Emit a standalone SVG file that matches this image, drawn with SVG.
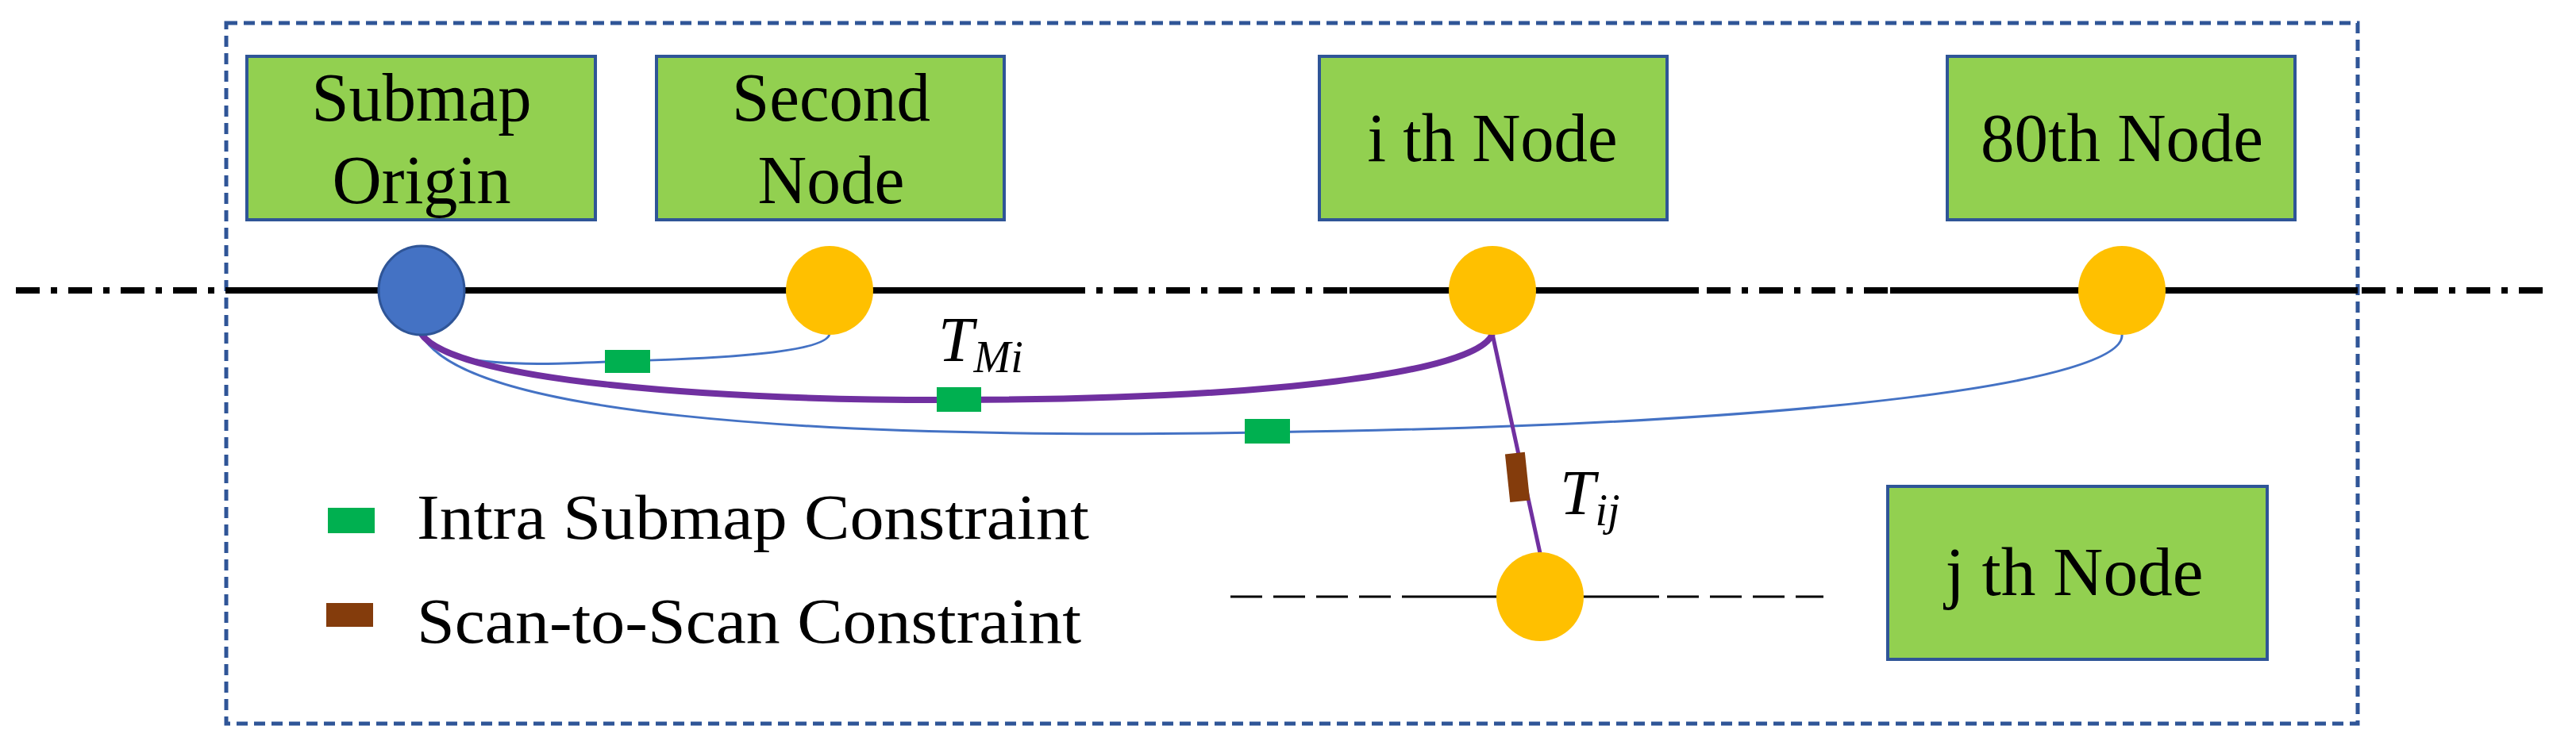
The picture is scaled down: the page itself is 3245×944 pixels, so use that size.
<svg xmlns="http://www.w3.org/2000/svg" width="3245" height="944" viewBox="0 0 3245 944">
<style>
.box{fill:#92D050;stroke:#2F5597;stroke-width:4}
.t{font-family:"Liberation Serif",serif;font-size:86px;fill:#000;text-anchor:middle}
.lg{font-family:"Liberation Serif",serif;font-size:80px;fill:#000}
.m{font-family:"Liberation Serif",serif;font-style:italic;fill:#000}
.yel{fill:#FFC000}
.sol{stroke:#000;stroke-width:8}
.dd{stroke:#000;stroke-width:8;stroke-dasharray:30 14 8 14}
</style>
<rect x="285" y="29" width="2685" height="883" fill="none" stroke="#2F5597" stroke-width="5" stroke-dasharray="14 8"/>
<g id="axis">
<line x1="20" y1="366" x2="285" y2="366" class="dd"/>
<line x1="285" y1="366" x2="1337" y2="366" class="sol"/>
<line x1="1337" y1="366" x2="1700" y2="366" class="dd"/>
<line x1="1700" y1="366" x2="2140" y2="366" class="sol"/>
<line x1="2150" y1="366" x2="2381" y2="366" class="dd"/>
<line x1="2381" y1="366" x2="2970" y2="366" class="sol"/>
<line x1="2975" y1="366" x2="3215" y2="366" class="dd"/>
<line x1="1550" y1="752" x2="1770" y2="752" stroke="#000" stroke-width="3" stroke-dasharray="40 14"/>
<line x1="1770" y1="752" x2="2090" y2="752" stroke="#000" stroke-width="3"/>
<line x1="2100" y1="752" x2="2297" y2="752" stroke="#000" stroke-width="3" stroke-dasharray="40 14"/>
</g>
<g id="connectors" fill="none">
<path d="M531,421 C560,470 700,458 790,455 C900,452 1040,445 1045,421" stroke="#4472C4" stroke-width="3"/>
<path d="M531,421 C580,520 1000,555 1590,545 C2300,535 2680,480 2673,421" stroke="#4472C4" stroke-width="3"/>
<path d="M531,421 C570,480 900,505 1207,504 C1600,503 1860,470 1880,421" stroke="#7030A0" stroke-width="8"/>
<line x1="1880" y1="421" x2="1940" y2="697" stroke="#7030A0" stroke-width="5"/>
<rect x="762" y="441" width="57" height="29" fill="#00B050"/>
<rect x="1180" y="488" width="56" height="31" fill="#00B050"/>
<rect x="1568" y="528" width="57" height="31" fill="#00B050"/>
<rect x="1899" y="571" width="25" height="61" fill="#843C0C" transform="rotate(-6 1911 601)"/>
</g>
<g id="n-origin"><rect class="box" x="311" y="71" width="439" height="206"/>
<text class="t" x="531" y="152" textLength="277" lengthAdjust="spacingAndGlyphs">Submap</text>
<text class="t" x="531" y="256" textLength="225" lengthAdjust="spacingAndGlyphs">Origin</text>
<ellipse cx="531" cy="366" rx="54" ry="56" fill="#4472C4" stroke="#2F5597" stroke-width="3"/></g>
<g id="n-second"><rect class="box" x="827" y="71" width="438" height="206"/>
<text class="t" x="1047" y="152" textLength="250" lengthAdjust="spacingAndGlyphs">Second</text>
<text class="t" x="1047" y="256" textLength="185" lengthAdjust="spacingAndGlyphs">Node</text>
<ellipse class="yel" cx="1045" cy="366" rx="55" ry="56"/></g>
<g id="n-i"><rect class="box" x="1662" y="71" width="438" height="206"/>
<text class="t" x="1880" y="203" textLength="315" lengthAdjust="spacingAndGlyphs">i th Node</text>
<ellipse class="yel" cx="1880" cy="366" rx="55" ry="56"/></g>
<g id="n-80"><rect class="box" x="2453" y="71" width="438" height="206"/>
<text class="t" x="2673" y="203" textLength="356" lengthAdjust="spacingAndGlyphs">80th Node</text>
<ellipse class="yel" cx="2673" cy="366" rx="55" ry="56"/></g>
<g id="n-j"><rect class="box" x="2378" y="613" width="478" height="218"/>
<text class="t" x="2613" y="750" textLength="325" lengthAdjust="spacingAndGlyphs">j th Node</text>
<ellipse class="yel" cx="1940" cy="752" rx="55" ry="56"/></g>
<g id="labels">
<text class="m" x="1182" y="455" font-size="80">T<tspan font-size="56" dy="14">Mi</tspan></text>
<text class="m" x="1965" y="648" font-size="80">T<tspan font-size="56" dy="14">ij</tspan></text>
</g>
<g id="legend">
<rect x="413" y="640" width="59" height="32" fill="#00B050"/>
<text class="lg" x="525" y="679" textLength="847" lengthAdjust="spacingAndGlyphs">Intra Submap Constraint</text>
<rect x="411" y="760" width="59" height="30" fill="#843C0C"/>
<text class="lg" x="525" y="810" textLength="837" lengthAdjust="spacingAndGlyphs">Scan-to-Scan Constraint</text>
</g>
</svg>
